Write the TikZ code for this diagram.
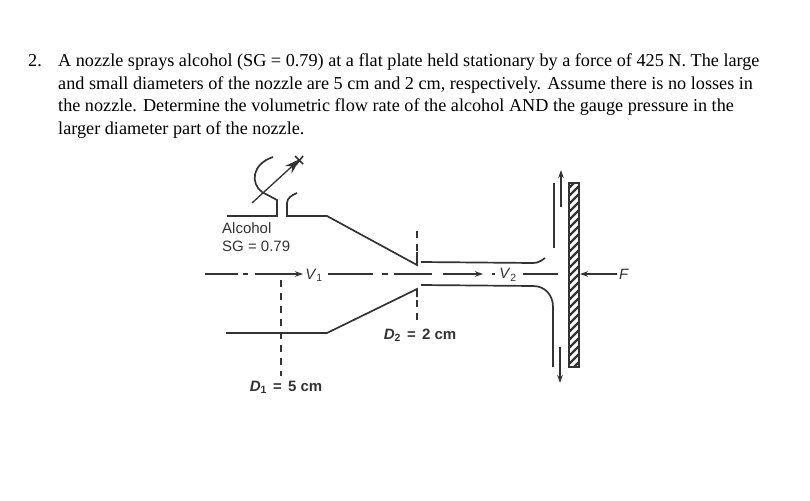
\documentclass[tikz,border=0pt]{standalone}
\usepackage{fontspec}
\setmainfont{Liberation Serif}
\setsansfont{Liberation Sans}
\usetikzlibrary{arrows.meta, calc}

\definecolor{inkgray}{gray}{0.2}

\tikzset{
  textline/.style={anchor=base west,inner sep=0pt,font=\fontsize{18.2}{20}\selectfont},
  label/.style={inner sep=0pt,text=inkgray,font=\sffamily\fontsize{15}{17}\selectfont},
  dimlabel/.style={inner sep=0pt,text=inkgray,font=\sffamily\bfseries\fontsize{15}{17}\selectfont},
  wall/.style={line width=1.7pt,draw=inkgray},
  center/.style={line width=1.4pt,draw=inkgray},
  flow/.style={line width=1.3pt,draw=inkgray,-{Stealth[length=8pt,width=5.5pt]}},
}

\begin{document}
\begin{tikzpicture}[x=1pt,y=-1pt]

\useasboundingbox (0,0) rectangle (810,500);

% problem text
\node[textline] (num) at (28,66.5) {2.};
\node[textline] (line1) at (58,66.5) {A nozzle sprays alcohol (SG = 0.79) at a flat plate held stationary by a force of 425 N. The large};
\node[textline] (line2) at (58,89.5) {and small diameters of the nozzle are 5 cm and 2 cm, respectively. Assume there is no losses in};
\node[textline] (line3) at (58,112) {the nozzle. Determine the volumetric flow rate of the alcohol AND the gauge pressure in the};
\node[textline] (line4) at (58,134.5) {larger diameter part of the nozzle.};

\def\ymid{274}
\def\xone{281}
\def\xtwo{417}

% nozzle walls
\draw[wall] (227,216) -- (277,216) -- (277,200) -- (262,192);
\draw[wall] (287,203) -- (287,216) -- (327,216) -- (417,265) -- (417,252);
\draw[wall] (287,203) .. controls (287,198) and (292,195) .. (297,193);
\draw[wall] (226,333) -- (327,333) -- (417,289) -- (417,297);

% gauge
\draw[wall] (262,192) .. controls (250,183) and (252,164) .. (273,157);
\draw[line width=1.3pt,draw=inkgray,-{Stealth[length=16pt,width=10pt]}] (252,203) -- (300,159);
\draw[line width=1.6pt,draw=inkgray] (295,156) -- (303,164) (296,165) -- (303,156);

% jet and sheet
\draw[wall] (421,262) -- (533,263) .. controls (538,263) and (541,261) .. (545,258);
\draw[wall] (554,183) -- (554,248);
\draw[wall] (421,285) -- (533,286) .. controls (545,286) and (553,295) .. (553,307) -- (553,367);
\draw[flow] (561,207) -- (561,170);
\draw[flow] (560,347) -- (560,383);

% plate
\draw[line width=1.2pt,draw=inkgray,fill=white] (569,183) rectangle (579,367);
\begin{scope}
\clip (569,183) rectangle (579,367);
\foreach \y in {180,188,...,384} \draw[line width=2.2pt,draw=inkgray] (567,\y+2) -- (581,\y-12);
\end{scope}

% center lines
\foreach \a/\b in {205/238,243/248,328/373,382/388,394/432,492/495,523/558} \draw[center] (\a,\ymid) -- (\b,\ymid);
\draw[flow] (255,\ymid) -- (303,\ymid);
\draw[flow] (443,\ymid) -- (483,\ymid);
\draw[center,dash pattern=on 7pt off 6pt] (\xone,280) -- (\xone,376);
\draw[center,dash pattern=on 7pt off 6pt] (\xtwo,231) -- (\xtwo,251);
\draw[center,dash pattern=on 7pt off 6pt] (\xtwo,300) -- (\xtwo,322);

% force
\coordinate (fstart) at (617,\ymid);
\draw[flow] (fstart) -- (580,\ymid);

% labels
\node[label,anchor=base west] (alcohol) at (222,233) {Alcohol};
\node[label,anchor=base west] (sg) at (222,251) {SG = 0.79};
\node[label] (v1) at (314,275) {\textit{V}\textsubscript{1}};
\node[label] (v2) at (508,275) {\textit{V}\textsubscript{2}};
\node[label,anchor=west] (force) at (619,274) {\textit{F}};
\node[dimlabel] (d1) at (286,387) {\textit{D}\textsubscript{1}\hspace{2pt} = \hspace{2pt}5 cm};
\node[dimlabel] (d2) at (420,335) {\textit{D}\textsubscript{2}\hspace{2pt} = \hspace{2pt}2 cm};

\end{tikzpicture}
\end{document}
